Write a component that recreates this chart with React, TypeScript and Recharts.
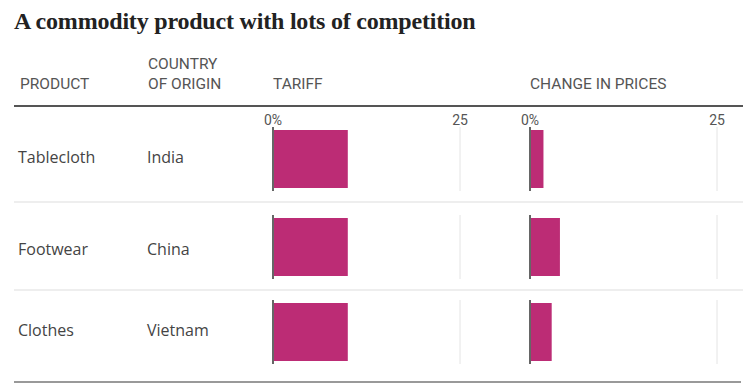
import { BarChart, Bar, XAxis, YAxis, ReferenceLine } from 'recharts';

const products = ['Tablecloth', 'Footwear', 'Clothes'];
const origins = ['India', 'China', 'Vietnam'];
const tariffs = [10, 10, 10];
const priceChanges = [1.8, 4.0, 2.9];
const axisTicks = [0, 25];

const rowTops = [105, 215, 300];
const rowTextY = [157, 249, 330];
const separatorsY = [201, 289];

const barColor = '#bc2c75';
const headFont = 'Roboto, "Liberation Sans", sans-serif';
const bodyFont = '"Open Sans", "Noto Sans", sans-serif';

function RowChart({ name, value, first }: { name: string; value: number; first: boolean }) {
  return (
    <BarChart
      width={210}
      height={first ? 86 : 64}
      layout="vertical"
      data={[{ name, value }]}
      margin={{ top: 0, right: 13, bottom: 0, left: 10 }}
    >
      <XAxis
        type="number"
        domain={[0, 25]}
        ticks={axisTicks}
        orientation="top"
        hide={!first}
        height={22}
        axisLine={false}
        tickLine={false}
        tickSize={0}
        tickMargin={2}
        tickFormatter={(v) => (v === 0 ? '0%' : String(v))}
        tick={{ fill: '#555', fontSize: 14, fontFamily: headFont }}
      />
      <YAxis type="category" dataKey="name" hide />
      <Bar dataKey="value" fill={barColor} barSize={58} isAnimationActive={false} />
      <ReferenceLine x={25} stroke="#e4e4e4" strokeWidth={1} />
      <ReferenceLine x={0} stroke="#666" strokeWidth={2} />
    </BarChart>
  );
}

const abs = (left: number, top: number): React.CSSProperties => ({
  position: 'absolute',
  left,
  top,
  whiteSpace: 'nowrap',
});

export default function App() {
  const head: React.CSSProperties = { fontFamily: headFont, fontSize: 15.5, color: '#555', lineHeight: '20px' };
  const body: React.CSSProperties = { fontFamily: bodyFont, fontSize: 16, color: '#444', lineHeight: '22px' };
  return (
    <div style={{ position: 'absolute', left: 0, top: 0, width: 743, height: 391, background: '#fff', overflow: 'hidden' }}>
      <div
        style={{
          ...abs(14, 6),
          fontFamily: '"Liberation Serif", serif',
          fontWeight: 700,
          fontSize: 24,
          lineHeight: '30px',
          color: '#222',
          letterSpacing: -0.2,
        }}
      >
        A commodity product with lots of competition
      </div>

      <div style={{ ...abs(20, 74), ...head }}>PRODUCT</div>
      <div style={{ ...abs(148, 54), ...head }}>COUNTRY</div>
      <div style={{ ...abs(148, 74), ...head }}>OF ORIGIN</div>
      <div style={{ ...abs(273, 74), ...head }}>TARIFF</div>
      <div style={{ ...abs(530, 74), ...head }}>CHANGE IN PRICES</div>

      <div style={{ ...abs(14, 105), width: 729, height: 2, background: '#555' }} />
      {separatorsY.map((y) => (
        <div key={y} style={{ ...abs(14, y), width: 729, height: 2, background: '#eee' }} />
      ))}
      <div style={{ ...abs(14, 381), width: 727, height: 2, background: '#999' }} />

      {products.map((p, i) => (
        <div key={p}>
          <div style={{ ...abs(18, rowTextY[i] - 11), ...body }}>{p}</div>
          <div style={{ ...abs(147, rowTextY[i] - 11), ...body }}>{origins[i]}</div>
          <div style={{ ...abs(263, rowTops[i]) }}>
            <RowChart name={p} value={tariffs[i]} first={i === 0} />
          </div>
          <div style={{ ...abs(520, rowTops[i]) }}>
            <RowChart name={p} value={priceChanges[i]} first={i === 0} />
          </div>
        </div>
      ))}
    </div>
  );
}
